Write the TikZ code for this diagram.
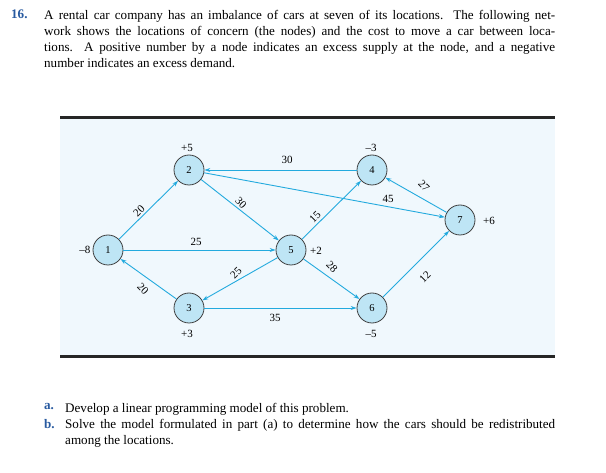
\documentclass[tikz,border=0pt]{standalone}
\usepackage{fontspec}
\setmainfont{Liberation Serif}
\usetikzlibrary{arrows.meta}
\definecolor{panel}{RGB}{240,248,253}
\definecolor{nodefill}{RGB}{190,229,245}
\definecolor{arr}{RGB}{35,170,222}
\definecolor{numblue}{RGB}{40,90,160}
\begin{document}
\begin{tikzpicture}[x=1pt,y=-1pt,
  nd/.style={circle,draw=black!75,line width=0.8pt,fill=nodefill,minimum size=30pt,inner sep=0pt,font=\fontsize{10.5}{11}\selectfont},
  ed/.style={draw=arr,line width=0.9pt,-{Stealth[length=6pt,width=4pt]}},
  lb/.style={font=\fontsize{11}{12}\selectfont,inner sep=0.5pt},
  txt/.style={anchor=north west,inner sep=0pt,align=left,font=\fontsize{13.1}{16}\selectfont}]
\useasboundingbox (0,0) rectangle (606,473);
\fill[white] (0,0) rectangle (606,473);
\fill[panel] (60,118) rectangle (555,357);
\draw[black!85,line width=3pt] (60,118) -- (555,118);
\draw[black!85,line width=3pt] (60,357) -- (555,357);
\node[txt] (n16) at (11,10) {\textcolor{numblue}{\textbf{16.}}};
\node[txt] (q) at (44,10) {\makebox[511pt][s]{A rental car company has an imbalance of cars at seven of its locations. The following net-}\\
\makebox[511pt][s]{work shows the locations of concern (the nodes) and the cost to move a car between loca-}\\
\makebox[511pt][s]{tions. A positive number by a node indicates an excess supply at the node, and a negative}\\
number indicates an excess demand.};
\node[nd] (1) at (108,250) {1};
\node[nd] (2) at (189,170) {2};
\node[nd] (3) at (189,308) {3};
\node[nd] (4) at (372,170) {4};
\node[nd] (5) at (291,250) {5};
\node[nd] (6) at (372,308) {6};
\node[nd] (7) at (460,220) {7};
\draw[ed] (1) -- (2);
\draw[ed] (2) -- (5);
\draw[ed] (1) -- (5);
\draw[ed] (3) -- (1);
\draw[ed] (5) -- (3);
\draw[ed] (3) -- (6);
\draw[ed] (4) -- (2);
\draw[ed] (2) -- (7);
\draw[ed] (5) -- (4);
\draw[ed] (5) -- (6);
\draw[ed] (6) -- (7);
\draw[ed] (7) -- (4);
\node[lb,rotate=45] (l12) at (139,211) {20};
\node[lb,rotate=-45] (l25) at (241,203) {30};
\node[lb] (l15) at (196,242) {25};
\node[lb,rotate=-45] (l31) at (143,289) {20};
\node[lb,rotate=45] (l53) at (236,273) {25};
\node[lb] (l36) at (275,318) {35};
\node[lb] (l42) at (287,160) {30};
\node[lb] (l27) at (388,199) {45};
\node[lb,rotate=45] (l54) at (315,217) {15};
\node[lb,rotate=-45] (l56) at (332,267) {28};
\node[lb,rotate=45] (l67) at (425,277) {12};
\node[lb,rotate=-45] (l74) at (424,186) {27};
\node[lb] (s2) at (187,148) {+5};
\node[lb] (s4) at (371,148) {--3};
\node[lb] (s7) at (489,221) {+6};
\node[lb,anchor=east] (s1) at (91,250) {--8};
\node[lb] (s5) at (316,251) {+2};
\node[lb] (s3) at (187,334) {+3};
\node[lb] (s6) at (371,334) {--5};
\node[txt] (a) at (44,403) {\textcolor{numblue}{\textbf{a.}}};
\node[txt] (at) at (65,403) {Develop a linear programming model of this problem.};
\node[txt] (b) at (44,419) {\textcolor{numblue}{\textbf{b.}}};
\node[txt] (bt) at (65,419) {\makebox[490pt][s]{Solve the model formulated in part (a) to determine how the cars should be redistributed}\\among the locations.};
\end{tikzpicture}
\end{document}
